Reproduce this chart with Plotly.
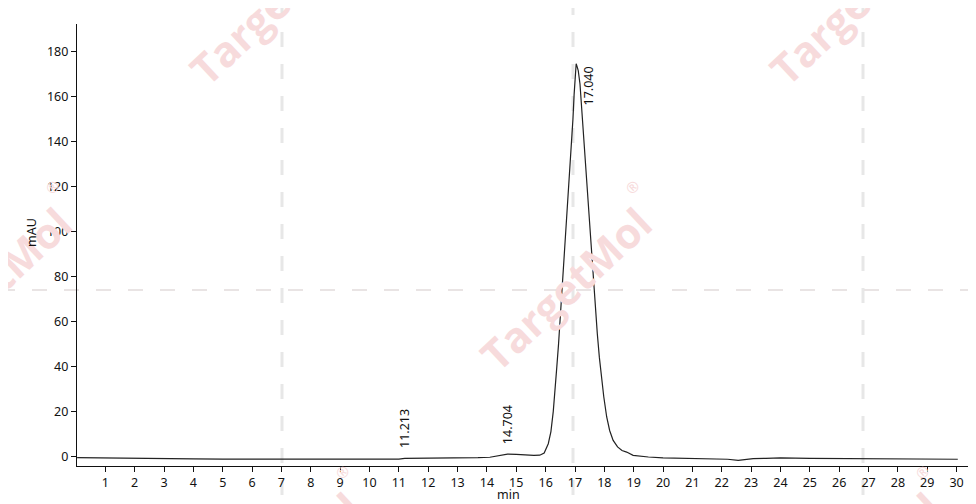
import plotly.graph_objects as go

# chromatogram (retention time in min, absorbance in mAU)
time = [0.04, 1, 2, 3, 4, 5, 6, 7, 8, 9, 10, 11, 11.2, 11.5, 12, 13, 13.7,
        14.1, 14.4, 14.7, 15.0, 15.3, 15.6, 15.8, 15.95, 16.09, 16.18, 16.26,
        16.32, 16.37, 16.44, 16.49, 16.55, 16.6, 16.68, 16.75, 16.82, 16.88,
        16.93, 16.97, 17.0, 17.04, 17.08, 17.11, 17.17, 17.22, 17.28, 17.34,
        17.39, 17.45, 17.51, 17.57, 17.62, 17.69, 17.76, 17.83, 17.9, 17.98,
        18.08, 18.18, 18.3, 18.45, 18.6, 18.76, 18.98, 19.2, 19.5, 20.0, 21.0,
        21.7, 22.2, 22.56, 22.8, 23.07, 23.5, 24, 25, 26, 27, 28, 29, 30.04]
mau = [-0.6, -0.8, -0.9, -1.0, -1.1, -1.2, -1.2, -1.3, -1.3, -1.3, -1.3, -1.2,
       -0.9, -0.9, -0.9, -0.8, -0.6, -0.4, 0.3, 1.0, 0.9, 0.6, 0.4, 0.5, 1.5,
       5.6, 11, 20, 28, 38, 50, 60, 71, 81, 96, 110, 124, 136, 150, 161, 169,
       174.6, 173, 171.6, 165.6, 156, 143.4, 132, 122, 110, 99, 87, 77, 65,
       54.5, 44, 35.5, 26.5, 17.5, 11.5, 7.1, 4.2, 2.6, 1.9, 0.44, 0.1, -0.3,
       -0.7, -1.0, -1.2, -1.3, -1.8, -1.3, -1.0, -0.9, -0.7, -0.9, -1.0, -1.0,
       -1.1, -1.2, -1.3]

peak_rt = [11.213, 14.704, 17.040]
peak_h = [-0.9, 1.0, 174.6]
peak_txt = ["11.213", "14.704", "17.040"]

xticks = list(range(1, 31))
yticks = list(range(0, 181, 20))

# the page body adds an 8px margin, so the figure is drawn 8px in
OFF = 8
W, H = 976 - OFF, 504 - OFF
# plot area in window pixels
L, R, T, B = 77, 976, 24, 466


def px(x):
    return (x - L) / (R - L)


def py(y):
    return (B - y) / (B - T)


fig = go.Figure()
fig.add_trace(go.Scatter(x=time, y=mau, mode="lines",
                         line=dict(color="#222222", width=1.2),
                         hoverinfo="skip", showlegend=False))

anns = []
for i, (rt, h, t) in enumerate(zip(peak_rt, peak_h, peak_txt)):
    if i < 2:
        anns.append(dict(x=rt, y=h, text=t, textangle=-90, showarrow=False,
                         xanchor="center", yanchor="bottom", yshift=8,
                         font=dict(size=12.5, color="#111")))
    else:
        anns.append(dict(x=rt, y=h, text=t, textangle=-90, showarrow=False,
                         xanchor="center", yanchor="top", xshift=12, yshift=-1,
                         font=dict(size=12.5, color="#111")))

# watermark
wm = [(565, 288), (275, 3), (855, 3), (-15, 288), (275, 573), (855, 573)]
for cx, cy in wm:
    anns.append(dict(xref="paper", yref="paper", x=px(cx), y=py(cy),
                     text="<b>TargetMol</b>", textangle=-43, showarrow=False,
                     xanchor="center", yanchor="middle",
                     font=dict(size=42, color="#f7dbdc", family="Open Sans")))
    anns.append(dict(xref="paper", yref="paper", x=px(cx + 67), y=py(cy - 101),
                     text="®", showarrow=False, textangle=-43,
                     xanchor="center", yanchor="middle",
                     font=dict(size=15, color="#f7dbdc")))

anns.append(dict(xref="paper", yref="paper", x=px(508), y=py(494), text="min",
                 xanchor="center", yanchor="middle",
                 showarrow=False, font=dict(size=12.5, color="#111")))
anns.append(dict(xref="paper", yref="paper", x=px(31), y=py(233), text="mAU",
                 xanchor="center", yanchor="middle",
                 textangle=-90, showarrow=False,
                 font=dict(size=12.5, color="#111")))

shapes = []
for vx in [282, 573, 863]:
    shapes.append(dict(type="line", xref="paper", yref="paper",
                       x0=px(vx), x1=px(vx), y0=py(0), y1=py(504),
                       layer="below",
                       line=dict(color="#e7e7e7", width=3, dash="15px,17px")))
for hy in [2, 290]:
    shapes.append(dict(type="line", xref="paper", yref="paper",
                       x0=px(0), x1=px(976), y0=py(hy), y1=py(hy),
                       layer="below",
                       line=dict(color="#e9e4e4", width=2, dash="15px,17px")))

fig.update_layout(
    width=W, height=H,
    margin=dict(l=L - OFF, r=976 - R, t=T - OFF, b=504 - B, autoexpand=False),
    paper_bgcolor="white", plot_bgcolor="rgba(0,0,0,0)",
    font=dict(family="Noto Sans", size=12.5, color="#111"),
    annotations=anns, shapes=shapes,
)
fig.update_xaxes(range=[0.036, 30.66], tickvals=xticks, ticks="outside",
                 ticklen=5, tickcolor="#111", showline=True, linecolor="#111",
                 linewidth=1.2, showgrid=False, zeroline=False,
                 automargin=False)
fig.update_yaxes(range=[-4.3, 192.3], tickvals=yticks, ticks="outside",
                 ticklen=5, tickcolor="#111", showline=True, linecolor="#111",
                 linewidth=1.2, showgrid=False, zeroline=False,
                 automargin=False)

fig.write_html("out.html")
